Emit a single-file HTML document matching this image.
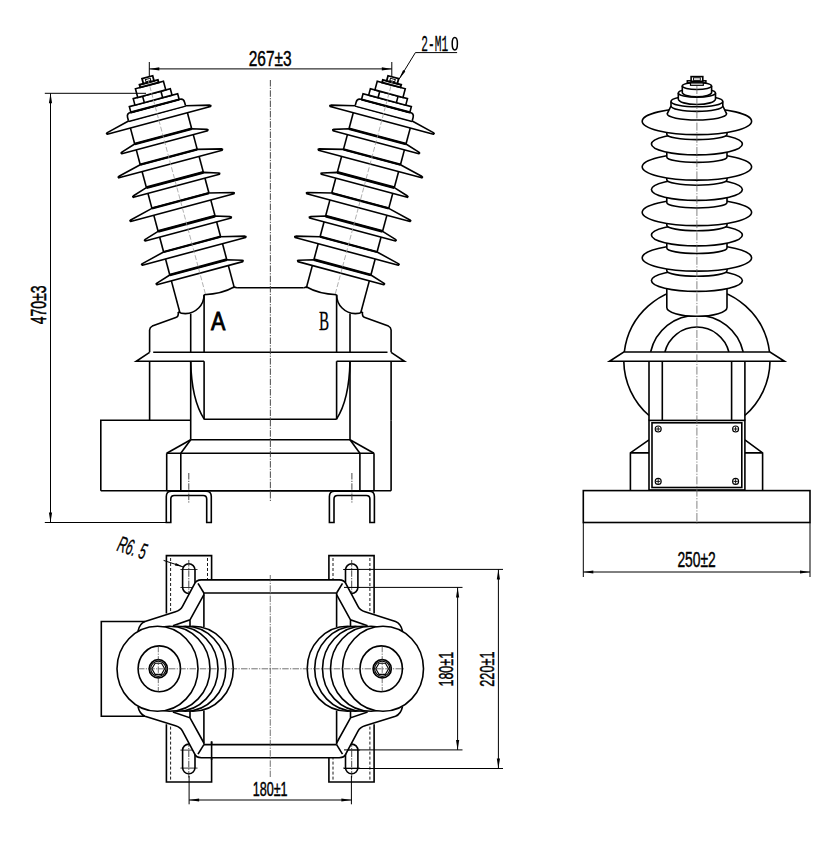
<!DOCTYPE html><html><head><meta charset="utf-8"><style>html,body{margin:0;padding:0;background:#fff;}svg{display:block;}</style></head><body><svg width="840" height="867" viewBox="0 0 840 867" stroke="#000" fill="none" stroke-linecap="butt">
<rect x="0" y="0" width="840" height="867" fill="#fff" stroke="none"/>
<g transform="translate(158.8,119.95) rotate(-15)"><line x1="-29.5" y1="158.2" x2="-29.5" y2="198.2" stroke-width="1.6"/>
<line x1="29.5" y1="158.2" x2="29.5" y2="198.2" stroke-width="1.6"/>
<polygon points="-29.5,152.6 -44,157.1 -45,157.7 -44.5,158.6 44.5,158.6 45,157.7 44,157.1 29.5,152.6" fill="#fff" stroke-width="1.6" stroke-linejoin="round"/>
<line x1="-29.5" y1="152.6" x2="29.5" y2="152.6" stroke-width="2.8"/>
<line x1="-29.5" y1="135.6" x2="-29.5" y2="152.6" stroke-width="1.6"/>
<line x1="29.5" y1="135.6" x2="29.5" y2="152.6" stroke-width="1.6"/>
<polygon points="-29.5,128.8 -53,134.5 -54,135.1 -53.5,136 53.5,136 54,135.1 53,134.5 29.5,128.8" fill="#fff" stroke-width="1.6" stroke-linejoin="round"/>
<line x1="-29.5" y1="128.8" x2="29.5" y2="128.8" stroke-width="2.3"/>
<line x1="-29.5" y1="113" x2="-29.5" y2="128.8" stroke-width="1.6"/>
<line x1="29.5" y1="113" x2="29.5" y2="128.8" stroke-width="1.6"/>
<polygon points="-29.5,107.4 -44,111.9 -45,112.5 -44.5,113.4 44.5,113.4 45,112.5 44,111.9 29.5,107.4" fill="#fff" stroke-width="1.6" stroke-linejoin="round"/>
<line x1="-29.5" y1="107.4" x2="29.5" y2="107.4" stroke-width="2.8"/>
<line x1="-29.5" y1="90.4" x2="-29.5" y2="107.4" stroke-width="1.6"/>
<line x1="29.5" y1="90.4" x2="29.5" y2="107.4" stroke-width="1.6"/>
<polygon points="-29.5,83.6 -53,89.3 -54,89.9 -53.5,90.8 53.5,90.8 54,89.9 53,89.3 29.5,83.6" fill="#fff" stroke-width="1.6" stroke-linejoin="round"/>
<line x1="-29.5" y1="83.6" x2="29.5" y2="83.6" stroke-width="2.3"/>
<line x1="-29.5" y1="67.8" x2="-29.5" y2="83.6" stroke-width="1.6"/>
<line x1="29.5" y1="67.8" x2="29.5" y2="83.6" stroke-width="1.6"/>
<polygon points="-29.5,62.2 -44,66.7 -45,67.3 -44.5,68.2 44.5,68.2 45,67.3 44,66.7 29.5,62.2" fill="#fff" stroke-width="1.6" stroke-linejoin="round"/>
<line x1="-29.5" y1="62.2" x2="29.5" y2="62.2" stroke-width="2.8"/>
<line x1="-29.5" y1="45.2" x2="-29.5" y2="62.2" stroke-width="1.6"/>
<line x1="29.5" y1="45.2" x2="29.5" y2="62.2" stroke-width="1.6"/>
<polygon points="-29.5,38.4 -53,44.1 -54,44.7 -53.5,45.6 53.5,45.6 54,44.7 53,44.1 29.5,38.4" fill="#fff" stroke-width="1.6" stroke-linejoin="round"/>
<line x1="-29.5" y1="38.4" x2="29.5" y2="38.4" stroke-width="2.3"/>
<line x1="-29.5" y1="22.6" x2="-29.5" y2="38.4" stroke-width="1.6"/>
<line x1="29.5" y1="22.6" x2="29.5" y2="38.4" stroke-width="1.6"/>
<polygon points="-29.5,17 -44,21.5 -45,22.1 -44.5,23 44.5,23 45,22.1 44,21.5 29.5,17" fill="#fff" stroke-width="1.6" stroke-linejoin="round"/>
<line x1="-29.5" y1="17" x2="29.5" y2="17" stroke-width="2.8"/>
<line x1="-29.5" y1="0" x2="-29.5" y2="17" stroke-width="1.6"/>
<line x1="29.5" y1="0" x2="29.5" y2="17" stroke-width="1.6"/>
<polygon points="-29.5,-6.8 -53,-1.1 -54,-0.5 -53.5,0.4 53.5,0.4 54,-0.5 53,-1.1 29.5,-6.8" fill="#fff" stroke-width="1.6" stroke-linejoin="round"/>
<line x1="-29.5" y1="-6.8" x2="29.5" y2="-6.8" stroke-width="2.3"/>
<path d="M-29.5,-7 L-29.5,-10.5 Q-29.5,-14.5 -25.5,-14.5 L25.5,-14.5 Q29.5,-14.5 29.5,-10.5 L29.5,-7" fill="#fff" stroke-width="1.6"/>
<rect x="-25" y="-20.5" width="50" height="6" fill="#fff" stroke-width="1.6"/>
<line x1="-25" y1="-14.5" x2="25" y2="-14.5" stroke-width="2.2"/>
<rect x="-19.2" y="-27.2" width="38.4" height="6.7" fill="#fff" stroke-width="1.6"/>
<line x1="-9.5" y1="-27.2" x2="-9.5" y2="-20.5" stroke-width="1.6"/>
<line x1="9.5" y1="-27.2" x2="9.5" y2="-20.5" stroke-width="1.6"/>
<rect x="-14.5" y="-36.2" width="29" height="9" fill="#fff" stroke-width="1.6"/>
<rect x="-9.5" y="-39" width="19" height="2.8" fill="#fff" stroke-width="1.9"/>
<rect x="-5.5" y="-44.3" width="11" height="5.3" fill="#fff" stroke-width="1.8"/>
<rect x="-2.5" y="-42.5" width="5" height="2.5" fill="none" stroke-width="1"/>
<line x1="0" y1="-42" x2="0" y2="185" stroke-width="0.7" stroke="#999" stroke-dasharray="5 2"/></g>
<g transform="translate(540.7,0) scale(-1,1)"><g transform="translate(158.8,119.95) rotate(-15)"><line x1="-29.5" y1="158.2" x2="-29.5" y2="198.2" stroke-width="1.6"/>
<line x1="29.5" y1="158.2" x2="29.5" y2="198.2" stroke-width="1.6"/>
<polygon points="-29.5,152.6 -44,157.1 -45,157.7 -44.5,158.6 44.5,158.6 45,157.7 44,157.1 29.5,152.6" fill="#fff" stroke-width="1.6" stroke-linejoin="round"/>
<line x1="-29.5" y1="152.6" x2="29.5" y2="152.6" stroke-width="2.8"/>
<line x1="-29.5" y1="135.6" x2="-29.5" y2="152.6" stroke-width="1.6"/>
<line x1="29.5" y1="135.6" x2="29.5" y2="152.6" stroke-width="1.6"/>
<polygon points="-29.5,128.8 -53,134.5 -54,135.1 -53.5,136 53.5,136 54,135.1 53,134.5 29.5,128.8" fill="#fff" stroke-width="1.6" stroke-linejoin="round"/>
<line x1="-29.5" y1="128.8" x2="29.5" y2="128.8" stroke-width="2.3"/>
<line x1="-29.5" y1="113" x2="-29.5" y2="128.8" stroke-width="1.6"/>
<line x1="29.5" y1="113" x2="29.5" y2="128.8" stroke-width="1.6"/>
<polygon points="-29.5,107.4 -44,111.9 -45,112.5 -44.5,113.4 44.5,113.4 45,112.5 44,111.9 29.5,107.4" fill="#fff" stroke-width="1.6" stroke-linejoin="round"/>
<line x1="-29.5" y1="107.4" x2="29.5" y2="107.4" stroke-width="2.8"/>
<line x1="-29.5" y1="90.4" x2="-29.5" y2="107.4" stroke-width="1.6"/>
<line x1="29.5" y1="90.4" x2="29.5" y2="107.4" stroke-width="1.6"/>
<polygon points="-29.5,83.6 -53,89.3 -54,89.9 -53.5,90.8 53.5,90.8 54,89.9 53,89.3 29.5,83.6" fill="#fff" stroke-width="1.6" stroke-linejoin="round"/>
<line x1="-29.5" y1="83.6" x2="29.5" y2="83.6" stroke-width="2.3"/>
<line x1="-29.5" y1="67.8" x2="-29.5" y2="83.6" stroke-width="1.6"/>
<line x1="29.5" y1="67.8" x2="29.5" y2="83.6" stroke-width="1.6"/>
<polygon points="-29.5,62.2 -44,66.7 -45,67.3 -44.5,68.2 44.5,68.2 45,67.3 44,66.7 29.5,62.2" fill="#fff" stroke-width="1.6" stroke-linejoin="round"/>
<line x1="-29.5" y1="62.2" x2="29.5" y2="62.2" stroke-width="2.8"/>
<line x1="-29.5" y1="45.2" x2="-29.5" y2="62.2" stroke-width="1.6"/>
<line x1="29.5" y1="45.2" x2="29.5" y2="62.2" stroke-width="1.6"/>
<polygon points="-29.5,38.4 -53,44.1 -54,44.7 -53.5,45.6 53.5,45.6 54,44.7 53,44.1 29.5,38.4" fill="#fff" stroke-width="1.6" stroke-linejoin="round"/>
<line x1="-29.5" y1="38.4" x2="29.5" y2="38.4" stroke-width="2.3"/>
<line x1="-29.5" y1="22.6" x2="-29.5" y2="38.4" stroke-width="1.6"/>
<line x1="29.5" y1="22.6" x2="29.5" y2="38.4" stroke-width="1.6"/>
<polygon points="-29.5,17 -44,21.5 -45,22.1 -44.5,23 44.5,23 45,22.1 44,21.5 29.5,17" fill="#fff" stroke-width="1.6" stroke-linejoin="round"/>
<line x1="-29.5" y1="17" x2="29.5" y2="17" stroke-width="2.8"/>
<line x1="-29.5" y1="0" x2="-29.5" y2="17" stroke-width="1.6"/>
<line x1="29.5" y1="0" x2="29.5" y2="17" stroke-width="1.6"/>
<polygon points="-29.5,-6.8 -53,-1.1 -54,-0.5 -53.5,0.4 53.5,0.4 54,-0.5 53,-1.1 29.5,-6.8" fill="#fff" stroke-width="1.6" stroke-linejoin="round"/>
<line x1="-29.5" y1="-6.8" x2="29.5" y2="-6.8" stroke-width="2.3"/>
<path d="M-29.5,-7 L-29.5,-10.5 Q-29.5,-14.5 -25.5,-14.5 L25.5,-14.5 Q29.5,-14.5 29.5,-10.5 L29.5,-7" fill="#fff" stroke-width="1.6"/>
<rect x="-25" y="-20.5" width="50" height="6" fill="#fff" stroke-width="1.6"/>
<line x1="-25" y1="-14.5" x2="25" y2="-14.5" stroke-width="2.2"/>
<rect x="-19.2" y="-27.2" width="38.4" height="6.7" fill="#fff" stroke-width="1.6"/>
<line x1="-9.5" y1="-27.2" x2="-9.5" y2="-20.5" stroke-width="1.6"/>
<line x1="9.5" y1="-27.2" x2="9.5" y2="-20.5" stroke-width="1.6"/>
<rect x="-14.5" y="-36.2" width="29" height="9" fill="#fff" stroke-width="1.6"/>
<rect x="-9.5" y="-39" width="19" height="2.8" fill="#fff" stroke-width="1.9"/>
<rect x="-5.5" y="-44.3" width="11" height="5.3" fill="#fff" stroke-width="1.8"/>
<rect x="-2.5" y="-42.5" width="5" height="2.5" fill="none" stroke-width="1"/>
<line x1="0" y1="-42" x2="0" y2="185" stroke-width="0.7" stroke="#999" stroke-dasharray="5 2"/></g></g>
<g><path d="M178.2,311.8 Q181,313.6 185.4,313.6 A18.8,18.8 0 0 0 204.1,294.8 Q222,294 236,287.5 L237.1,287.7 L270.35,287.7 L270.35,352.3 L149.6,352.3 L149.6,330 Q150,327 152.3,326.1 L175.8,317.6 Q178.9,316.6 178.2,311.8 Z" fill="#fff" stroke="none"/>
<line x1="237.1" y1="287.7" x2="270.35" y2="287.7" stroke-width="1.6"/>
<path d="M234.5,286.8 Q235.2,287.7 237.1,287.7" stroke-width="1.6"/>
<path d="M204.1,294.8 Q222,294 234.5,286.8" stroke-width="1.6"/>
<line x1="204.1" y1="294.8" x2="204.1" y2="352.3" stroke-width="1.6"/>
<path d="M178.2,311.8 Q181,313.6 185.4,313.6 A18.8,18.8 0 0 0 204.1,294.8" stroke-width="1.6"/>
<line x1="190.7" y1="313.6" x2="190.7" y2="352.3" stroke-width="1.6"/>
<path d="M178.2,311.8 Q178.9,316.6 175.8,317.6 L152.3,326.1 Q149.8,327.3 149.6,330 L149.6,352.3" stroke-width="1.6"/>
<line x1="153.2" y1="352.3" x2="270.35" y2="352.3" stroke-width="1.6"/>
<path d="M149.6,352.3 L136.25,361.25 L204.1,361.25" stroke-width="1.6"/>
<line x1="149.6" y1="361.25" x2="149.6" y2="420.3" stroke-width="1.6"/>
<line x1="190.7" y1="361.25" x2="190.7" y2="439.7" stroke-width="1.6"/>
<line x1="204.1" y1="361.25" x2="204.1" y2="419.2" stroke-width="1.6"/>
<path d="M190.7,361.25 Q191.5,400 204.3,419.2" stroke-width="1.6"/>
<line x1="204.1" y1="419.2" x2="270.35" y2="419.2" stroke-width="1.6"/>
<line x1="190.7" y1="439.7" x2="270.35" y2="439.7" stroke-width="1.6"/>
<line x1="190.7" y1="439.7" x2="166.7" y2="453.3" stroke-width="1.6"/>
<line x1="190.7" y1="439.7" x2="180.8" y2="453.3" stroke-width="1.6"/>
<line x1="166.7" y1="453.3" x2="270.35" y2="453.3" stroke-width="1.6"/>
<line x1="166.7" y1="453.3" x2="166.7" y2="490.8" stroke-width="1.6"/>
<line x1="180.8" y1="453.3" x2="180.8" y2="490.8" stroke-width="1.6"/>
<line x1="166.7" y1="490.8" x2="270.35" y2="490.8" stroke-width="1.6"/>
<path d="M166.3,522.5 L166.3,496.5 Q166.3,491.3 171.5,491.3 L206.1,491.3 Q211.3,491.3 211.3,496.5 L211.3,522.5 L206.7,522.5 L206.7,499 Q206.7,495.5 203.2,495.5 L174.3,495.5 Q170.8,495.5 170.8,499 L170.8,522.5 Z" stroke-width="1.6" fill="#fff"/>
<line x1="188.8" y1="473" x2="188.8" y2="502.5" stroke-width="0.9" stroke="#333" stroke-dasharray="6.5 1.3 1.2 1.3"/></g>
<g transform="translate(540.7,0) scale(-1,1)"><path d="M178.2,311.8 Q181,313.6 185.4,313.6 A18.8,18.8 0 0 0 204.1,294.8 Q222,294 236,287.5 L237.1,287.7 L270.35,287.7 L270.35,352.3 L149.6,352.3 L149.6,330 Q150,327 152.3,326.1 L175.8,317.6 Q178.9,316.6 178.2,311.8 Z" fill="#fff" stroke="none"/>
<line x1="237.1" y1="287.7" x2="270.35" y2="287.7" stroke-width="1.6"/>
<path d="M234.5,286.8 Q235.2,287.7 237.1,287.7" stroke-width="1.6"/>
<path d="M204.1,294.8 Q222,294 234.5,286.8" stroke-width="1.6"/>
<line x1="204.1" y1="294.8" x2="204.1" y2="352.3" stroke-width="1.6"/>
<path d="M178.2,311.8 Q181,313.6 185.4,313.6 A18.8,18.8 0 0 0 204.1,294.8" stroke-width="1.6"/>
<line x1="190.7" y1="313.6" x2="190.7" y2="352.3" stroke-width="1.6"/>
<path d="M178.2,311.8 Q178.9,316.6 175.8,317.6 L152.3,326.1 Q149.8,327.3 149.6,330 L149.6,352.3" stroke-width="1.6"/>
<line x1="153.2" y1="352.3" x2="270.35" y2="352.3" stroke-width="1.6"/>
<path d="M149.6,352.3 L136.25,361.25 L204.1,361.25" stroke-width="1.6"/>
<line x1="149.6" y1="361.25" x2="149.6" y2="420.3" stroke-width="1.6"/>
<line x1="190.7" y1="361.25" x2="190.7" y2="439.7" stroke-width="1.6"/>
<line x1="204.1" y1="361.25" x2="204.1" y2="419.2" stroke-width="1.6"/>
<path d="M190.7,361.25 Q191.5,400 204.3,419.2" stroke-width="1.6"/>
<line x1="204.1" y1="419.2" x2="270.35" y2="419.2" stroke-width="1.6"/>
<line x1="190.7" y1="439.7" x2="270.35" y2="439.7" stroke-width="1.6"/>
<line x1="190.7" y1="439.7" x2="166.7" y2="453.3" stroke-width="1.6"/>
<line x1="190.7" y1="439.7" x2="180.8" y2="453.3" stroke-width="1.6"/>
<line x1="166.7" y1="453.3" x2="270.35" y2="453.3" stroke-width="1.6"/>
<line x1="166.7" y1="453.3" x2="166.7" y2="490.8" stroke-width="1.6"/>
<line x1="180.8" y1="453.3" x2="180.8" y2="490.8" stroke-width="1.6"/>
<line x1="166.7" y1="490.8" x2="270.35" y2="490.8" stroke-width="1.6"/>
<path d="M166.3,522.5 L166.3,496.5 Q166.3,491.3 171.5,491.3 L206.1,491.3 Q211.3,491.3 211.3,496.5 L211.3,522.5 L206.7,522.5 L206.7,499 Q206.7,495.5 203.2,495.5 L174.3,495.5 Q170.8,495.5 170.8,499 L170.8,522.5 Z" stroke-width="1.6" fill="#fff"/>
<line x1="188.8" y1="473" x2="188.8" y2="502.5" stroke-width="0.9" stroke="#333" stroke-dasharray="6.5 1.3 1.2 1.3"/></g>
<line x1="391.1" y1="420.3" x2="391.1" y2="490.8" stroke-width="1.6" />
<path d="M190.7,420.3 L100.8,420.3 L100.8,490.8" stroke-width="1.6" fill="none" />
<line x1="100.8" y1="490.8" x2="391.1" y2="490.8" stroke-width="1.6" />
<line x1="270.35" y1="80" x2="270.35" y2="502" stroke-width="0.9" stroke="#333" stroke-dasharray="6.5 1.3 1.2 1.3"/>
<text x="211" y="329.8" font-family="Liberation Sans" font-size="25" fill="#000" stroke="#000" stroke-width="0.9" transform="translate(211,0) scale(0.86,1) translate(-211,0)">A</text>
<text x="319" y="330" font-family="Liberation Serif" font-size="27" fill="#000" stroke="#000" stroke-width="0.3" transform="translate(319,0) scale(0.56,1) translate(-319,0)">B</text>
<line x1="149.3" y1="62" x2="149.3" y2="76" stroke-width="1.0" />
<line x1="391.8" y1="62" x2="391.8" y2="76" stroke-width="1.0" />
<line x1="149.3" y1="68.9" x2="391.8" y2="68.9" stroke-width="1.0" />
<polygon points="149.3,68.9 159.3,67.3 159.3,70.5" fill="#000" stroke="none"/>
<polygon points="391.8,68.9 381.8,70.5 381.8,67.3" fill="#000" stroke="none"/>
<text x="421.3" y="50.6" font-family="Liberation Mono" font-size="21.5" fill="#000" stroke="#000" stroke-width="0.25" transform="translate(421.3,0) scale(0.52,1) translate(-421.3,0)">2-M1</text><ellipse cx="454.8" cy="43.8" rx="2.6" ry="6.2" stroke-width="1.5" fill="none"/>
<line x1="415.4" y1="52.6" x2="457.1" y2="52.6" stroke-width="1.0" />
<line x1="415.4" y1="52.6" x2="399" y2="79.3" stroke-width="1.0" />
<polygon points="399,79.3 403.13,70.1 405.34,71.46" fill="#000" stroke="none"/>
<line x1="44.8" y1="93.3" x2="146" y2="93.3" stroke-width="1.0" />
<line x1="44.8" y1="522.5" x2="166.3" y2="522.5" stroke-width="1.0" />
<line x1="50.5" y1="93.3" x2="50.5" y2="522.5" stroke-width="1.0" />
<polygon points="50.5,93.3 52.1,103.3 48.9,103.3" fill="#000" stroke="none"/>
<polygon points="50.5,522.5 48.9,512.5 52.1,512.5" fill="#000" stroke="none"/>
<path d="M624.3,352 A73.1,73.1 0 0 1 769.5,352" stroke-width="1.6" fill="#fff"/>
<path d="M650.6,352 A47.5,47.5 0 0 1 743.2,352" stroke-width="1.6"/>
<path d="M664.9,352 A33,33 0 0 1 728.9,352" stroke-width="1.6"/>
<path d="M623.8,361.25 A73.1,73.1 0 0 0 649,415.5" stroke-width="1.6"/>
<path d="M770,361.25 A73.1,73.1 0 0 1 744.8,415.5" stroke-width="1.6"/>
<path d="M666.8,285 L666.8,307.5 A30.1,8.7 0 0 0 727,307.5 L727,285" stroke-width="1.6" fill="#fff"/>
<ellipse cx="696.9" cy="280.62" rx="45.5" ry="10.8" stroke-width="1.6" fill="#fff"/>
<path d="M666.8,262.86 L666.8,270.72 A30.1,5.5 0 0 0 727,270.72 L727,262.86" stroke-width="1.6" fill="#fff"/>
<ellipse cx="696.9" cy="257.86" rx="54.7" ry="13.3" stroke-width="1.6" fill="#fff"/>
<path d="M666.8,240.1 L666.8,247.96 A30.1,5.5 0 0 0 727,247.96 L727,240.1" stroke-width="1.6" fill="#fff"/>
<ellipse cx="696.9" cy="235.1" rx="45.5" ry="10.8" stroke-width="1.6" fill="#fff"/>
<path d="M666.8,217.34 L666.8,225.2 A30.1,5.5 0 0 0 727,225.2 L727,217.34" stroke-width="1.6" fill="#fff"/>
<ellipse cx="696.9" cy="212.34" rx="54.7" ry="13.3" stroke-width="1.6" fill="#fff"/>
<path d="M666.8,194.58 L666.8,202.44 A30.1,5.5 0 0 0 727,202.44 L727,194.58" stroke-width="1.6" fill="#fff"/>
<ellipse cx="696.9" cy="189.58" rx="45.5" ry="10.8" stroke-width="1.6" fill="#fff"/>
<path d="M666.8,171.82 L666.8,179.68 A30.1,5.5 0 0 0 727,179.68 L727,171.82" stroke-width="1.6" fill="#fff"/>
<ellipse cx="696.9" cy="166.82" rx="54.7" ry="13.3" stroke-width="1.6" fill="#fff"/>
<path d="M666.8,149.06 L666.8,156.92 A30.1,5.5 0 0 0 727,156.92 L727,149.06" stroke-width="1.6" fill="#fff"/>
<ellipse cx="696.9" cy="144.06" rx="45.5" ry="10.8" stroke-width="1.6" fill="#fff"/>
<path d="M666.8,126.3 L666.8,134.16 A30.1,5.5 0 0 0 727,134.16 L727,126.3" stroke-width="1.6" fill="#fff"/>
<ellipse cx="696.9" cy="121.3" rx="54.7" ry="13.3" stroke-width="1.6" fill="#fff"/>
<path d="M671,106 L667.2,113.8 A29.7,6.2 0 0 0 726.6,113.8 L722.8,106" stroke-width="1.6" fill="#fff"/>
<path d="M671,101.4 L671,106 A25.9,5.4 0 0 0 722.8,106 L722.8,101.4" stroke-width="1.6" fill="#fff"/>
<ellipse cx="696.9" cy="101.4" rx="25.9" ry="5.4" stroke-width="1.6" fill="#fff"/>
<path d="M678.3,93 L678.3,99 A18.6,5.5 0 0 0 715.5,99 L715.5,93" stroke-width="1.6" fill="#fff"/>
<ellipse cx="696.9" cy="93" rx="18.6" ry="4.2" stroke-width="1.6" fill="#fff"/>
<path d="M682.3,86 L682.3,92.5 A14.65,4.2 0 0 0 711.6,92.5 L711.6,86" stroke-width="1.6" fill="#fff"/>
<ellipse cx="696.9" cy="86" rx="14.65" ry="3.5" stroke-width="1.6" fill="#fff"/>
<rect x="690.5" y="82.5" width="12.8" height="2.8" stroke-width="1.2" fill="#fff" />
<rect x="687.3" y="80.8" width="18.6" height="2" stroke-width="1.5" fill="#fff" />
<rect x="691.1" y="76.6" width="11.7" height="4.7" stroke-width="1.6" fill="#fff" />
<rect x="693.5" y="77.8" width="6.8" height="2.5" stroke-width="0.9" fill="none" />
<polygon points="623.75,352 770,352 784.5,361.25 609.5,361.25" stroke-width="1.6" fill="#fff" />
<line x1="649" y1="361.25" x2="649" y2="420.4" stroke-width="1.6" />
<line x1="662.3" y1="361.25" x2="662.3" y2="420.4" stroke-width="1.6" />
<line x1="731.6" y1="361.25" x2="731.6" y2="420.4" stroke-width="1.6" />
<line x1="744.9" y1="361.25" x2="744.9" y2="420.4" stroke-width="1.6" />
<path d="M630.4,490 L630.4,452.9 L649,439.9 M630.4,452.9 L649,452.9" stroke-width="1.6"/>
<path d="M762.6,490 L762.6,452.9 L744.9,439.9 M762.6,452.9 L744.9,452.9" stroke-width="1.6"/>
<rect x="649" y="420.4" width="95.9" height="69.6" stroke-width="1.6" fill="#fff" />
<rect x="652" y="422.8" width="89.8" height="64.7" stroke-width="1.6" fill="none" />
<circle cx="658.2" cy="429" r="3" stroke-width="1.1" fill="#fff"/>
<line x1="656" y1="429" x2="660.4" y2="429" stroke-width="0.9" />
<line x1="658.2" y1="426.8" x2="658.2" y2="431.2" stroke-width="0.9" />
<circle cx="735.6" cy="429" r="3" stroke-width="1.1" fill="#fff"/>
<line x1="733.4" y1="429" x2="737.8" y2="429" stroke-width="0.9" />
<line x1="735.6" y1="426.8" x2="735.6" y2="431.2" stroke-width="0.9" />
<circle cx="658.2" cy="481.4" r="3" stroke-width="1.1" fill="#fff"/>
<line x1="656" y1="481.4" x2="660.4" y2="481.4" stroke-width="0.9" />
<line x1="658.2" y1="479.2" x2="658.2" y2="483.6" stroke-width="0.9" />
<circle cx="735.6" cy="481.4" r="3" stroke-width="1.1" fill="#fff"/>
<line x1="733.4" y1="481.4" x2="737.8" y2="481.4" stroke-width="0.9" />
<line x1="735.6" y1="479.2" x2="735.6" y2="483.6" stroke-width="0.9" />
<rect x="583.3" y="490.6" width="226.7" height="31.9" stroke-width="1.6" fill="none" />
<line x1="696.9" y1="86" x2="696.9" y2="525" stroke-width="0.8" stroke="#666" stroke-dasharray="8 1.5 1.2 1.5"/>
<line x1="583.3" y1="522.5" x2="583.3" y2="577" stroke-width="1.0" />
<line x1="810" y1="522.5" x2="810" y2="577" stroke-width="1.0" />
<line x1="583.3" y1="572" x2="810" y2="572" stroke-width="1.0" />
<polygon points="583.3,572 593.3,570.4 593.3,573.6" fill="#000" stroke="none"/>
<polygon points="810,572 800,573.6 800,570.4" fill="#000" stroke="none"/>
<g><path d="M166.4,613.4 L166.4,555.6 L211.6,555.6 L211.6,580" stroke-width="1.6"/>
<line x1="170.6" y1="558" x2="170.6" y2="612" stroke-width="0.9" stroke-dasharray="3 2"/>
<line x1="207.5" y1="558" x2="207.5" y2="580" stroke-width="0.9" stroke-dasharray="3 2"/>
<path d="M182.6,570 A6.2,6.2 0 0 1 195,570 L195,587.3 A6.2,6.2 0 0 1 182.6,587.3 Z" stroke-width="1.6"/>
<line x1="180.4" y1="569.5" x2="197.5" y2="569.5" stroke-width="0.8"/>
<line x1="180.4" y1="587.5" x2="197.5" y2="587.5" stroke-width="0.8"/>
<line x1="188.8" y1="560" x2="188.8" y2="596" stroke-width="0.9" stroke="#333" stroke-dasharray="6.5 1.3 1.2 1.3"/>
<path d="M270.25,579.9 L201.3,579.9 Q196,580 194.5,584 L182.5,606.4 Q180.5,610.3 175.5,611.8 L145,621.4 Q139.5,623.5 138,631.1 L190,627 L203.9,627 L203.9,593 L270.25,593 Z" stroke="none" fill="#fff"/>
<path d="M270.25,579.9 L201.3,579.9 Q196,580 194.5,584 L182.5,606.4 Q180.5,610.3 175.5,611.8 L145,621.4 Q139.5,623.5 138,631.1" stroke-width="1.6"/>
<line x1="198" y1="583.4" x2="203.9" y2="593" stroke-width="1.6"/>
<line x1="203.9" y1="593" x2="270.25" y2="593" stroke-width="1.6"/>
<line x1="203.9" y1="593" x2="203.9" y2="627" stroke-width="1.6"/>
<path d="M203.9,594.6 L190,619.8 L172.9,625.7 M190,619.8 L190,627" stroke-width="1.6"/></g>
<g transform="translate(540.5,0) scale(-1,1)"><path d="M166.4,613.4 L166.4,555.6 L211.6,555.6 L211.6,580" stroke-width="1.6"/>
<line x1="170.6" y1="558" x2="170.6" y2="612" stroke-width="0.9" stroke-dasharray="3 2"/>
<line x1="207.5" y1="558" x2="207.5" y2="580" stroke-width="0.9" stroke-dasharray="3 2"/>
<path d="M182.6,570 A6.2,6.2 0 0 1 195,570 L195,587.3 A6.2,6.2 0 0 1 182.6,587.3 Z" stroke-width="1.6"/>
<line x1="180.4" y1="569.5" x2="197.5" y2="569.5" stroke-width="0.8"/>
<line x1="180.4" y1="587.5" x2="197.5" y2="587.5" stroke-width="0.8"/>
<line x1="188.8" y1="560" x2="188.8" y2="596" stroke-width="0.9" stroke="#333" stroke-dasharray="6.5 1.3 1.2 1.3"/>
<path d="M270.25,579.9 L201.3,579.9 Q196,580 194.5,584 L182.5,606.4 Q180.5,610.3 175.5,611.8 L145,621.4 Q139.5,623.5 138,631.1 L190,627 L203.9,627 L203.9,593 L270.25,593 Z" stroke="none" fill="#fff"/>
<path d="M270.25,579.9 L201.3,579.9 Q196,580 194.5,584 L182.5,606.4 Q180.5,610.3 175.5,611.8 L145,621.4 Q139.5,623.5 138,631.1" stroke-width="1.6"/>
<line x1="198" y1="583.4" x2="203.9" y2="593" stroke-width="1.6"/>
<line x1="203.9" y1="593" x2="270.25" y2="593" stroke-width="1.6"/>
<line x1="203.9" y1="593" x2="203.9" y2="627" stroke-width="1.6"/>
<path d="M203.9,594.6 L190,619.8 L172.9,625.7 M190,619.8 L190,627" stroke-width="1.6"/></g>
<g transform="translate(0,1337.6) scale(1,-1)"><path d="M166.4,613.4 L166.4,555.6 L211.6,555.6 L211.6,596.2" stroke-width="1.6"/>
<line x1="170.6" y1="558" x2="170.6" y2="612" stroke-width="0.9" stroke-dasharray="3 2"/>

<path d="M182.6,570 A6.2,6.2 0 0 1 195,570 L195,587.3 A6.2,6.2 0 0 1 182.6,587.3 Z" stroke-width="1.6"/>
<line x1="180.4" y1="569.5" x2="197.5" y2="569.5" stroke-width="0.8"/>
<line x1="180.4" y1="587.5" x2="197.5" y2="587.5" stroke-width="0.8"/>
<line x1="188.8" y1="560" x2="188.8" y2="596" stroke-width="0.9" stroke="#333" stroke-dasharray="6.5 1.3 1.2 1.3"/>
<path d="M270.25,579.9 L201.3,579.9 Q196,580 194.5,584 L182.5,606.4 Q180.5,610.3 175.5,611.8 L145,621.4 Q139.5,623.5 138,631.1 L190,627 L203.9,627 L203.9,593 L270.25,593 Z" stroke="none" fill="#fff"/>
<path d="M270.25,579.9 L201.3,579.9 Q196,580 194.5,584 L182.5,606.4 Q180.5,610.3 175.5,611.8 L145,621.4 Q139.5,623.5 138,631.1" stroke-width="1.6"/>
<line x1="198" y1="583.4" x2="203.9" y2="593" stroke-width="1.6"/>
<line x1="203.9" y1="593" x2="270.25" y2="593" stroke-width="1.6"/>
<line x1="203.9" y1="593" x2="203.9" y2="627" stroke-width="1.6"/>
<path d="M203.9,594.6 L190,619.8 L172.9,625.7 M190,619.8 L190,627" stroke-width="1.6"/></g>
<g transform="translate(540.5,1337.6) scale(-1,-1)"><path d="M166.4,613.4 L166.4,555.6 L211.6,555.6 L211.6,580" stroke-width="1.6"/>
<line x1="170.6" y1="558" x2="170.6" y2="612" stroke-width="0.9" stroke-dasharray="3 2"/>
<line x1="207.5" y1="558" x2="207.5" y2="580" stroke-width="0.9" stroke-dasharray="3 2"/>
<path d="M182.6,570 A6.2,6.2 0 0 1 195,570 L195,587.3 A6.2,6.2 0 0 1 182.6,587.3 Z" stroke-width="1.6"/>
<line x1="180.4" y1="569.5" x2="197.5" y2="569.5" stroke-width="0.8"/>
<line x1="180.4" y1="587.5" x2="197.5" y2="587.5" stroke-width="0.8"/>
<line x1="188.8" y1="560" x2="188.8" y2="596" stroke-width="0.9" stroke="#333" stroke-dasharray="6.5 1.3 1.2 1.3"/>
<path d="M270.25,579.9 L201.3,579.9 Q196,580 194.5,584 L182.5,606.4 Q180.5,610.3 175.5,611.8 L145,621.4 Q139.5,623.5 138,631.1 L190,627 L203.9,627 L203.9,593 L270.25,593 Z" stroke="none" fill="#fff"/>
<path d="M270.25,579.9 L201.3,579.9 Q196,580 194.5,584 L182.5,606.4 Q180.5,610.3 175.5,611.8 L145,621.4 Q139.5,623.5 138,631.1" stroke-width="1.6"/>
<line x1="198" y1="583.4" x2="203.9" y2="593" stroke-width="1.6"/>
<line x1="203.9" y1="593" x2="270.25" y2="593" stroke-width="1.6"/>
<line x1="203.9" y1="593" x2="203.9" y2="627" stroke-width="1.6"/>
<path d="M203.9,594.6 L190,619.8 L172.9,625.7 M190,619.8 L190,627" stroke-width="1.6"/></g>
<line x1="211.6" y1="741.4" x2="211.6" y2="760" stroke-width="1.6" />
<path d="M145,621.5 L101.3,621.5 L101.3,716.3 L145,716.3" stroke-width="1.6"/>
<ellipse cx="192.8" cy="668.8" rx="40.5" ry="42.5" stroke-width="1.6" fill="#fff"/>
<ellipse cx="185.3" cy="668.8" rx="40.5" ry="42.5" stroke-width="1.6" fill="#fff"/>
<ellipse cx="177.5" cy="668.8" rx="40.5" ry="42.5" stroke-width="1.6" fill="#fff"/>
<ellipse cx="169.5" cy="668.8" rx="40.5" ry="42.5" stroke-width="1.6" fill="#fff"/>
<ellipse cx="157.5" cy="668.8" rx="40.5" ry="42.5" stroke-width="1.6" fill="#fff"/>
<ellipse cx="159.3" cy="668.8" rx="21.2" ry="22.9" stroke-width="1.6" fill="none"/>
<circle cx="158.3" cy="668.8" r="9.1" stroke-width="1.7" fill="none"/>
<circle cx="158.3" cy="668.8" r="7.6" stroke-width="1.1" fill="none"/>
<polygon points="164.7,668.8 161.5,674.34 155.1,674.34 151.9,668.8 155.1,663.26 161.5,663.26" stroke-width="1.1" fill="none"/>
<line x1="158.3" y1="645.8" x2="158.3" y2="691.8" stroke-width="0.7" stroke="#333" stroke-dasharray="6.5 1.3 1.2 1.3"/>
<ellipse cx="347.7" cy="668.8" rx="40.5" ry="42.5" stroke-width="1.6" fill="#fff"/>
<ellipse cx="355.2" cy="668.8" rx="40.5" ry="42.5" stroke-width="1.6" fill="#fff"/>
<ellipse cx="363" cy="668.8" rx="40.5" ry="42.5" stroke-width="1.6" fill="#fff"/>
<ellipse cx="371" cy="668.8" rx="40.5" ry="42.5" stroke-width="1.6" fill="#fff"/>
<ellipse cx="383" cy="668.8" rx="40.5" ry="42.5" stroke-width="1.6" fill="#fff"/>
<ellipse cx="381.2" cy="668.8" rx="21.2" ry="22.9" stroke-width="1.6" fill="none"/>
<circle cx="382.2" cy="668.8" r="9.1" stroke-width="1.7" fill="none"/>
<circle cx="382.2" cy="668.8" r="7.6" stroke-width="1.1" fill="none"/>
<polygon points="388.6,668.8 385.4,674.34 379,674.34 375.8,668.8 379,663.26 385.4,663.26" stroke-width="1.1" fill="none"/>
<line x1="382.2" y1="645.8" x2="382.2" y2="691.8" stroke-width="0.7" stroke="#333" stroke-dasharray="6.5 1.3 1.2 1.3"/>
<line x1="138" y1="668.8" x2="404" y2="668.8" stroke-width="0.7" stroke="#333" stroke-dasharray="6.5 1.3 1.2 1.3"/>
<line x1="270.25" y1="575" x2="270.25" y2="777" stroke-width="0.7" stroke="#333" stroke-dasharray="6.5 1.3 1.2 1.3"/>
<line x1="344" y1="569.4" x2="503" y2="569.4" stroke-width="1.0" />
<line x1="344" y1="587.4" x2="462.5" y2="587.4" stroke-width="1.0" />
<line x1="344" y1="749.9" x2="462.5" y2="749.9" stroke-width="1.0" />
<line x1="344" y1="768.5" x2="503" y2="768.5" stroke-width="1.0" />
<line x1="457.6" y1="587.4" x2="457.6" y2="749.9" stroke-width="1.0" />
<polygon points="457.6,587.4 459.2,597.4 456,597.4" fill="#000" stroke="none"/>
<polygon points="457.6,749.9 456,739.9 459.2,739.9" fill="#000" stroke="none"/>
<line x1="498.4" y1="569.4" x2="498.4" y2="768.5" stroke-width="1.0" />
<polygon points="498.4,569.4 500,579.4 496.8,579.4" fill="#000" stroke="none"/>
<polygon points="498.4,768.5 496.8,758.5 500,758.5" fill="#000" stroke="none"/>
<line x1="189.1" y1="776" x2="189.1" y2="804.3" stroke-width="1.0" />
<line x1="351.4" y1="776" x2="351.4" y2="804.3" stroke-width="1.0" />
<line x1="189.1" y1="800" x2="351.4" y2="800" stroke-width="1.0" />
<polygon points="189.1,800 199.1,798.4 199.1,801.6" fill="#000" stroke="none"/>
<polygon points="351.4,800 341.4,801.6 341.4,798.4" fill="#000" stroke="none"/>
<line x1="163.6" y1="560.4" x2="182.9" y2="566.8" stroke-width="1.0" />
<polygon points="182.9,566.8 174.87,565.61 175.75,562.95" fill="#000" stroke="none"/>
<text x="0" y="0" font-family="Liberation Sans" font-style="italic" font-size="22.5" fill="#000" stroke="#000" stroke-width="0.3" transform="translate(116,550.5) rotate(18) scale(0.54,1)">R6. 5</text>
<text x="0" y="0" font-family="Liberation Sans" font-size="21.55" fill="#000" stroke="#000" stroke-width="0.45" transform="translate(248.73,66.48) scale(0.719,1)">267±3</text>
<text x="0" y="0" font-family="Liberation Sans" font-size="21.97" fill="#000" stroke="#000" stroke-width="0.5" transform="translate(46.28,324.28) rotate(-90) scale(0.637,1)">470±3</text>
<text x="0" y="0" font-family="Liberation Sans" font-size="21.41" fill="#000" stroke="#000" stroke-width="0.45" transform="translate(677.41,567.39) scale(0.647,1)">250±2</text>
<text x="0" y="0" font-family="Liberation Sans" font-size="20.7" fill="#000" stroke="#000" stroke-width="0.45" transform="translate(453.09,686.58) rotate(-90) scale(0.605,1)">180±1</text>
<text x="0" y="0" font-family="Liberation Sans" font-size="20.14" fill="#000" stroke="#000" stroke-width="0.45" transform="translate(493.6,686.84) rotate(-90) scale(0.635,1)">220±1</text>
<text x="0" y="0" font-family="Liberation Sans" font-size="21.13" fill="#000" stroke="#000" stroke-width="0.45" transform="translate(252.72,795.89) scale(0.596,1)">180±1</text>
</svg></body></html>
